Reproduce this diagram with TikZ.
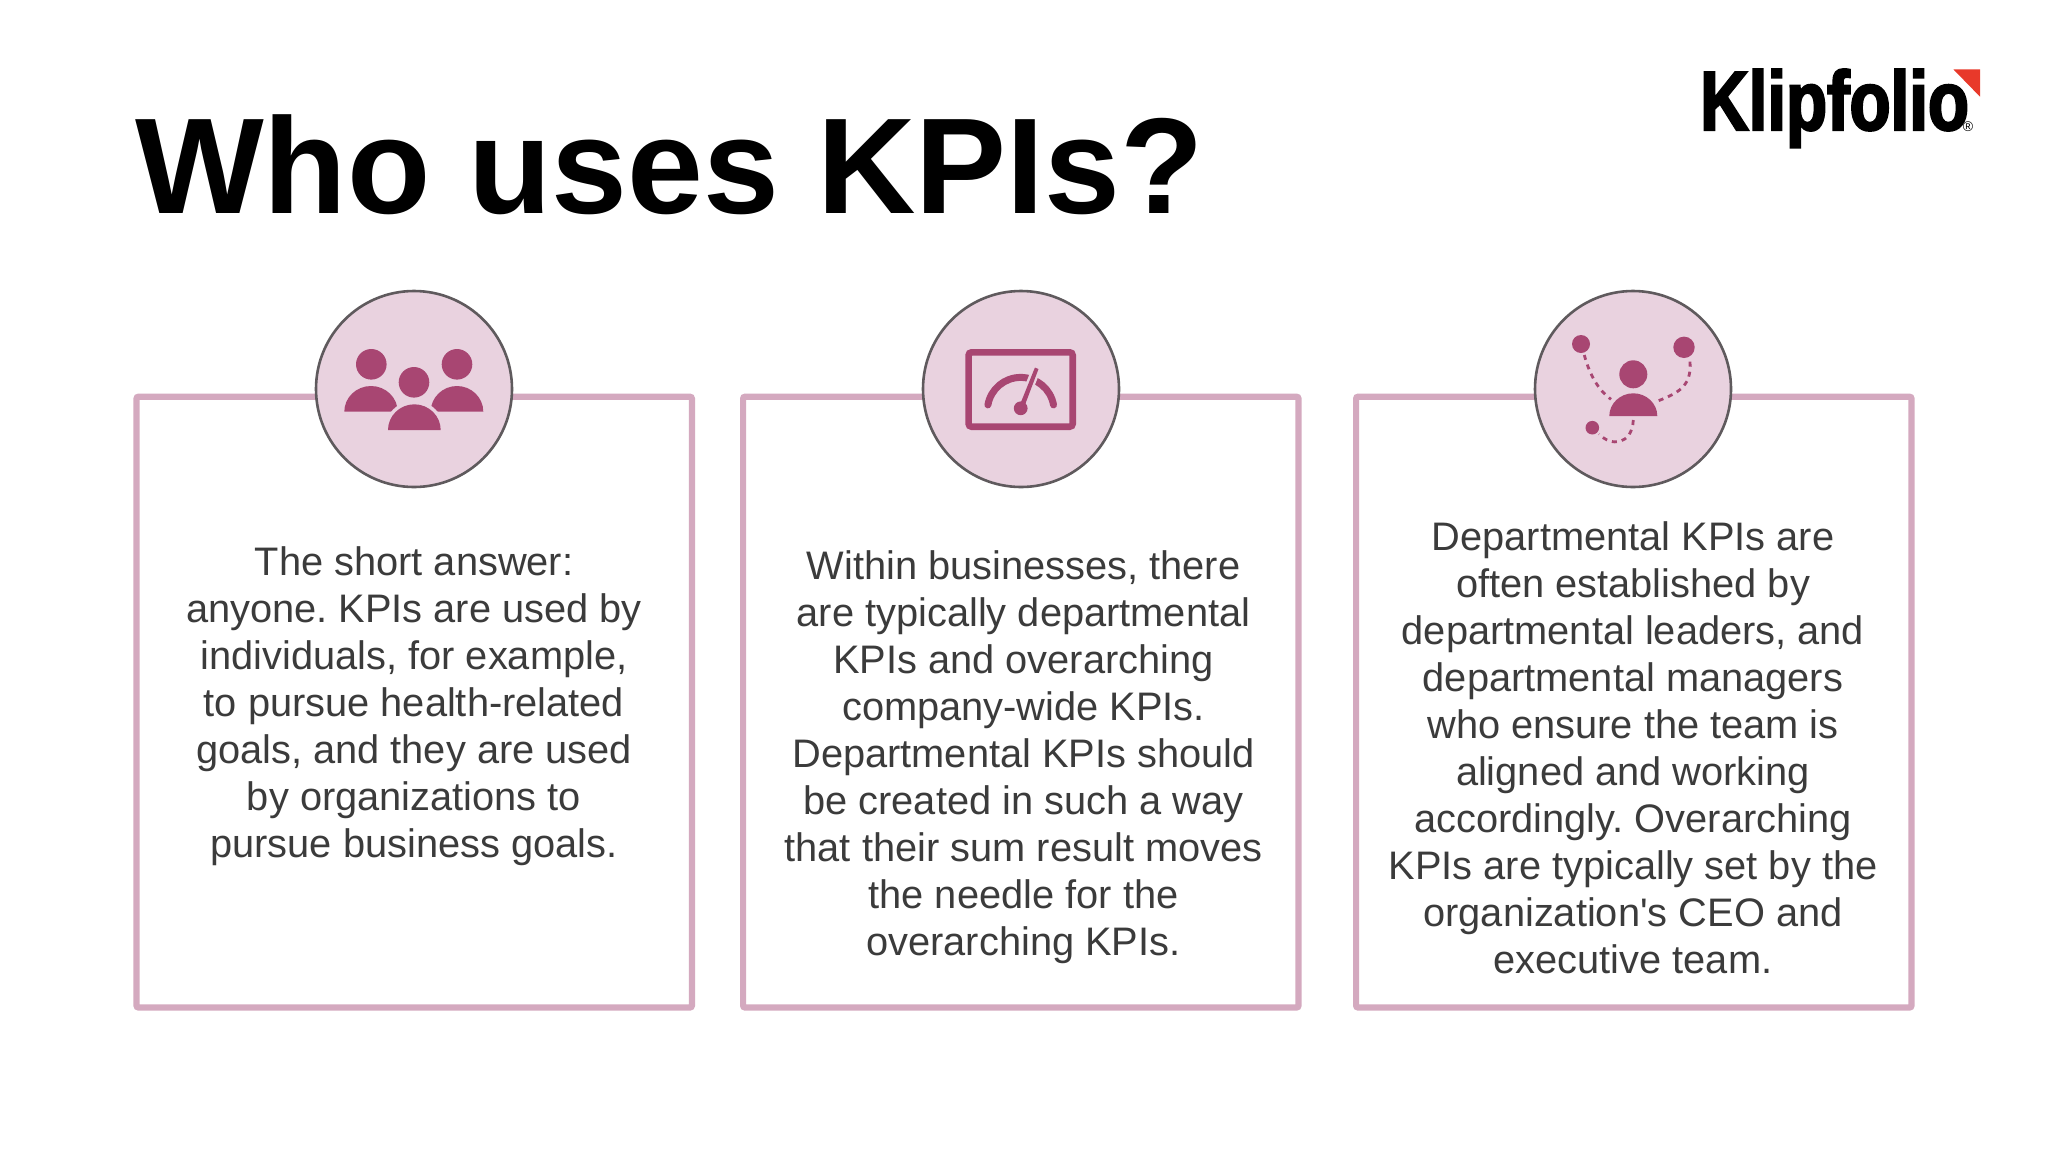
\documentclass[tikz,border=0pt]{standalone}
\usepackage{fontspec}
\setmainfont{Liberation Sans}
\newfontfamily\logofont[FakeStretch=0.8,FakeBold=2.6]{Liberation Sans Bold}
\definecolor{boxline}{HTML}{D4A9BF}
\definecolor{discfill}{HTML}{E9D2DF}
\definecolor{discline}{HTML}{5F5A5D}
\definecolor{iconc}{HTML}{A84672}
\definecolor{bodytext}{HTML}{3B3B3B}
\definecolor{logored}{HTML}{E8392A}
\newcommand{\personbody}[5][iconc]{%
  \fill[#1] (#2,#4) .. controls (#2,{#4-0.55*(#4-#5)}) and ({(#2+#3)/2-0.275*(#3-#2)},#5) .. ({(#2+#3)/2},#5)
   .. controls ({(#2+#3)/2+0.275*(#3-#2)},#5) and (#3,{#4-0.55*(#4-#5)}) .. (#3,#4) -- cycle;}
\tikzset{
  panel/.style={rectangle,draw=boxline,line width=6.2pt,rounded corners=2pt,fill=white,minimum width=555.4pt,minimum height=610.8pt,inner sep=0pt,anchor=north west},
  discnode/.style={circle,draw=discline,line width=2.6pt,fill=discfill,minimum size=196pt,inner sep=0pt},
  bodycopy/.style={align=center,text=bodytext,inner sep=0pt,font=\fontsize{39.8}{47}\selectfont\frenchspacing},
  dashpath/.style={draw=iconc,line width=2.8pt,dash pattern=on 5pt off 5pt},
}
\begin{document}
\begin{tikzpicture}[x=1pt,y=-1pt]
\useasboundingbox (0,0) rectangle (2048,1152);
\fill[white] (0,0) rectangle (2048,1152);
\node[anchor=base west,inner sep=0pt,font=\fontsize{136.4}{150}\selectfont\bfseries] (title) at (135,213) {Who uses KPIs?};
% logo
\node[anchor=base west,inner sep=0pt,font=\fontsize{84}{90}\selectfont\logofont] (logo) at (1700,130) {Klipfolio};
\node[anchor=center,inner sep=0pt,font=\fontsize{14}{15}\selectfont] (reg) at (1968,127) {®};
\fill[logored] (1953.3,69.3) -- (1980,69.3) -- (1980,96.7) -- cycle;
% panels
\node[panel] (p1) at (133.4,393.6) {};
\node[panel] (p2) at (740,393.6) {};
\node[panel] (p3) at (1353,393.6) {};
\node[discnode] (d1) at (414,389) {};
\node[discnode] (d2) at (1021,389) {};
\node[discnode] (d3) at (1633,389) {};
% text
\node[bodycopy] (t1) at (414,706) {The short answer:\\anyone. KPIs are used by\\individuals, for example,\\to pursue health-related\\goals, and they are used\\by organizations to\\pursue business goals.};
\node[bodycopy] (t2) at (1023.5,757.6) {Within businesses, there\\are typically departmental\\KPIs and overarching\\company-wide KPIs.\\Departmental KPIs should\\be created in such a way\\that their sum result moves\\the needle for the\\overarching KPIs.};
\node[bodycopy] (t3) at (1633,747.6) {Departmental KPIs are\\often established by\\departmental leaders, and\\departmental managers\\who ensure the team is\\aligned and working\\accordingly. Overarching\\KPIs are typically set by the\\organization\textquotesingle s CEO and\\executive team.};
% icon 1
\fill[iconc] (371.3,364.3) circle[radius=15.3];
\fill[iconc] (457,364.3) circle[radius=15.3];
\fill[iconc] (414,382.3) circle[radius=15.3];
\personbody{344.3}{397.7}{411.7}{386}
\personbody{430.7}{483.3}{411.7}{386}
\personbody[discfill]{384}{444.7}{432}{400.5}
\personbody{388}{440.7}{430}{404.3}
% icon 2
\draw[iconc,line width=6.6pt,rounded corners=3pt] (968.6,352.3) rectangle (1072.7,426.7);
\draw[iconc,line width=7pt,line cap=round] (987.9,404.9) .. controls (990.7,389) and (1004.5,377.4) .. (1020.7,377.4) .. controls (1036.9,377.4) and (1050.7,389) .. (1053.5,404.9);
\draw[discfill,line width=9pt] (1020.7,408.3) -- (1036.7,368.3);
\fill[iconc] (1018.6,408) -- (1034.9,367.6) -- (1038.5,369) -- (1023.4,409) -- cycle;
\fill[iconc] (1020.7,408.3) circle[radius=6.9];
% icon 3
\fill[iconc] (1581,344) circle[radius=9];
\fill[iconc] (1684,347.3) circle[radius=10.7];
\fill[iconc] (1592.3,427.7) circle[radius=6.8];
\fill[iconc] (1633.3,374.3) circle[radius=14];
\personbody{1609.3}{1657.3}{416}{393.3}
\draw[dashpath] (1584.3,355) .. controls (1590,376.7) and (1600,391.7) .. (1611,399.3);
\draw[dashpath] (1690,361.7) .. controls (1691.7,386.7) and (1678.3,393.3) .. (1654.3,402.3);
\draw[dashpath] (1633.3,420) .. controls (1632,445) and (1611,447) .. (1599,434);
\end{tikzpicture}
\end{document}
